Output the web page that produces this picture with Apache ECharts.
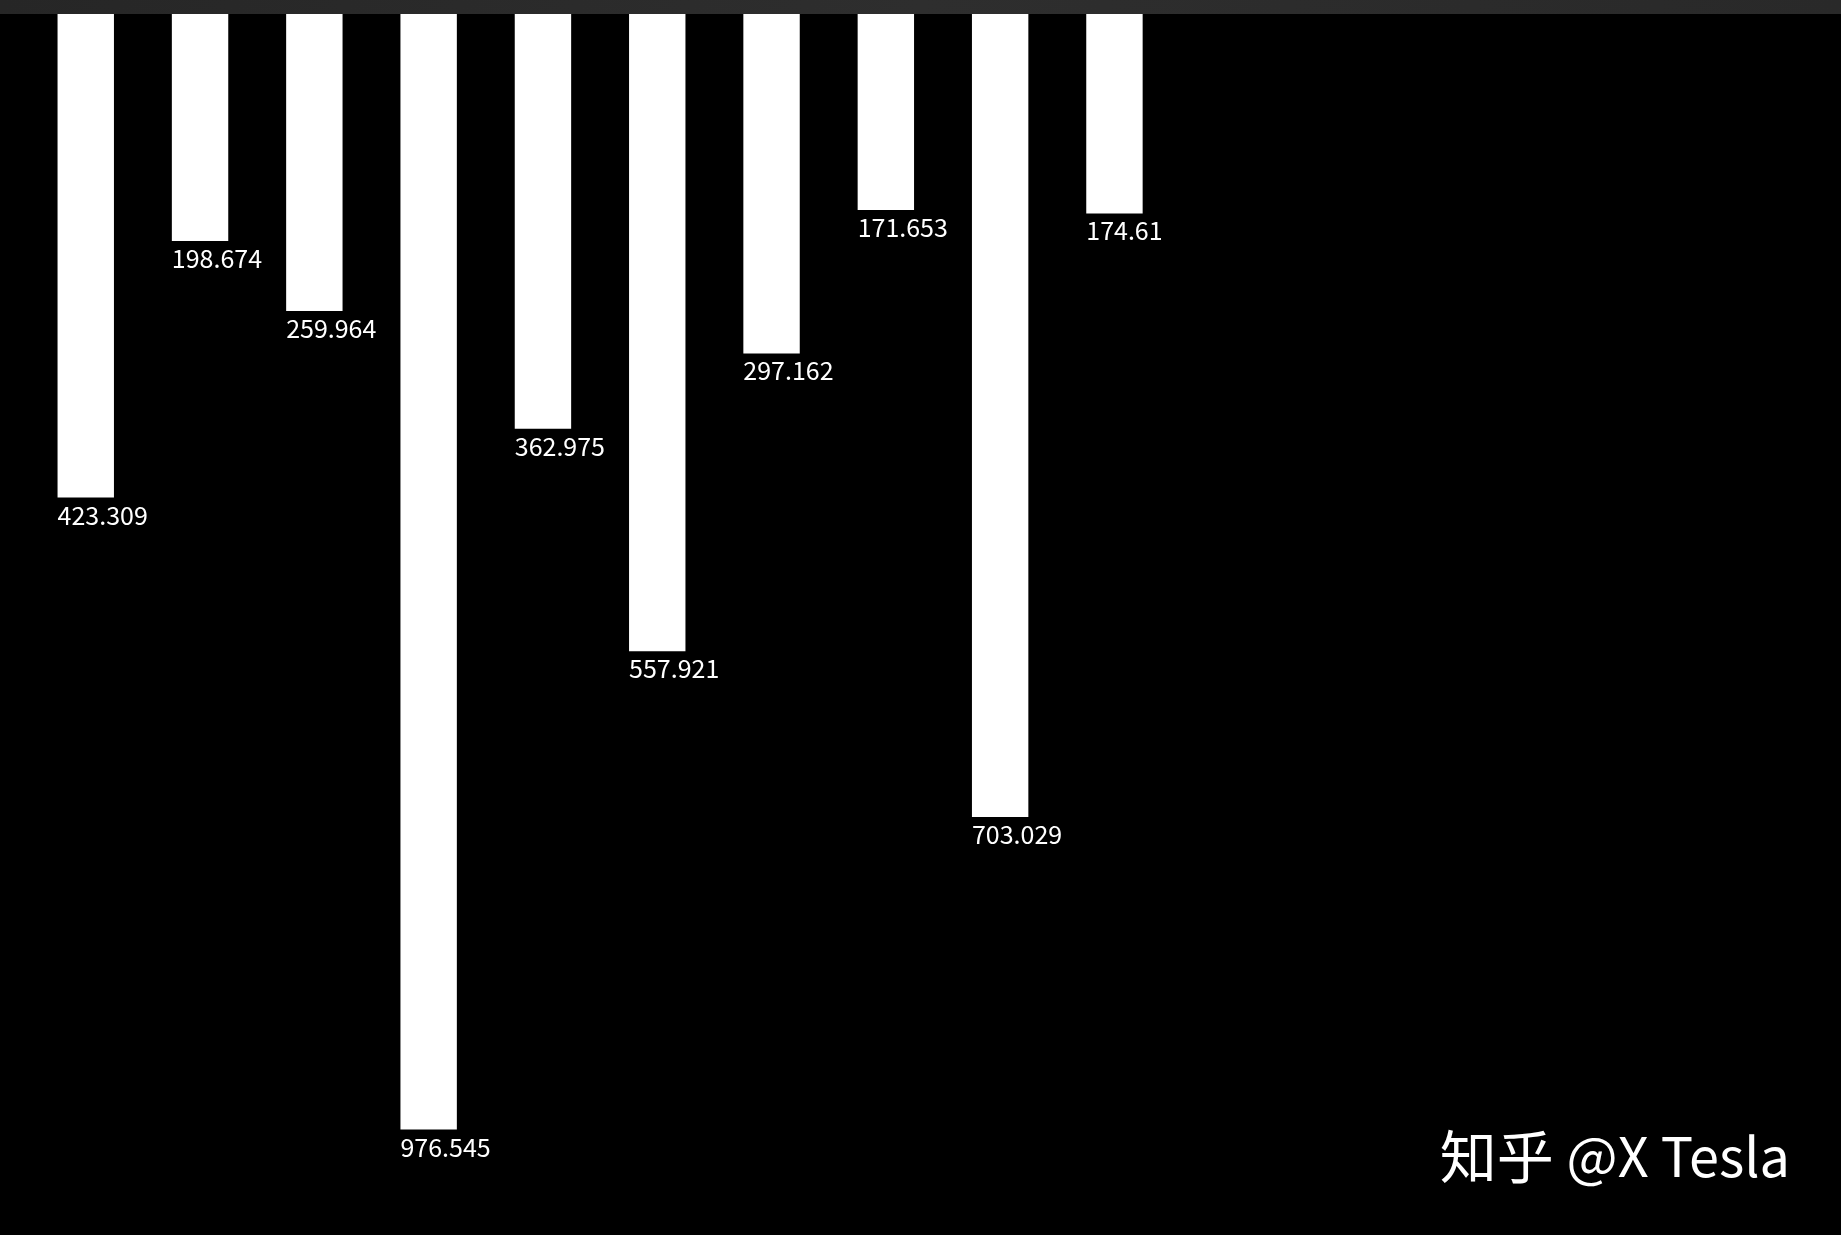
<!DOCTYPE html>
<html>
<head>
<meta charset="utf-8">
<style>
html,body{margin:0;padding:0;background:#000;}
#chart{width:1841px;height:1235px;}
</style>
<script src="https://cdn.jsdelivr.net/npm/echarts@6/dist/echarts.min.js"></script>
</head>
<body>
<div id="chart"></div>
<script>
const categories = ['1','2','3','4','5','6','7','8','9','10'];
const values = [423.309, 198.674, 259.964, 976.545, 362.975, 557.921, 297.162, 171.653, 703.029, 174.61];
const watermarkCn = '知乎';
const watermarkEn = '@X Tesla';

const chart = echarts.init(document.getElementById('chart'));
chart.setOption({
  backgroundColor: '#000',
  animation: false,
  grid: { left: 28.6, top: 14, width: 1143, height: 1142.3, containLabel: false },
  xAxis: {
    type: 'category', data: categories,
    axisLine: { show: false }, axisTick: { show: false }, axisLabel: { show: false }, splitLine: { show: false }
  },
  yAxis: {
    type: 'value', inverse: true, min: 0, max: 1000,
    axisLine: { show: false }, axisTick: { show: false }, axisLabel: { show: false }, splitLine: { show: false }
  },
  series: [{
    type: 'bar',
    data: values,
    barWidth: 56.4,
    itemStyle: { color: '#ffffff' },
    label: {
      show: true,
      position: [0, '100%'],
      offset: [0, 5],
      align: 'left',
      verticalAlign: 'top',
      color: '#ffffff',
      fontFamily: 'Noto Sans CJK SC',
      fontSize: 25,
      formatter: p => String(p.value)
    }
  }],
  graphic: [
    {
      type: 'rect', left: 0, top: 0, z: 100,
      shape: { width: 1841, height: 14 },
      style: {
        fill: new echarts.graphic.LinearGradient(0, 0, 1, 0, [
          { offset: 0, color: '#262626' },
          { offset: 0.5, color: '#2e2e2e' },
          { offset: 1, color: '#292929' }
        ])
      }
    },
    {
      type: 'text', right: 51, top: 1128, z: 100,
      style: {
        text: '{cn|' + watermarkCn + '}{gap| }{en|' + watermarkEn + '}',
        fill: '#ffffff',
        rich: {
          cn: { fontFamily: 'Noto Sans CJK SC', fontSize: 57, fill: '#ffffff' },
          gap: { fontFamily: 'Noto Sans CJK SC', fontSize: 57, fill: '#ffffff' },
          en: { fontFamily: 'Noto Sans CJK SC', fontSize: 54, fill: '#ffffff' }
        }
      }
    }
  ]
});
</script>
</body>
</html>
